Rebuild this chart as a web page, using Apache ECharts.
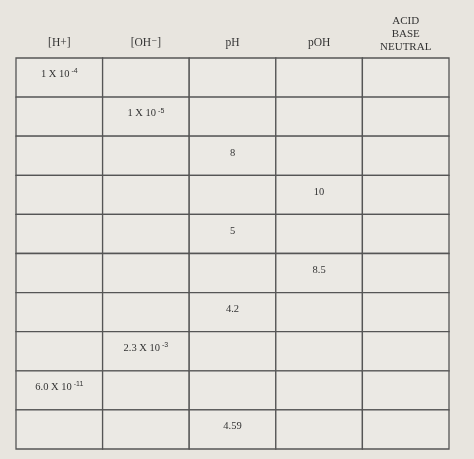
<!DOCTYPE html>
<html>
<head>
    <meta charset="utf-8">
    <script src="https://cdn.jsdelivr.net/npm/echarts@6/dist/echarts.min.js"></script>
    <style>
        html, body { margin: 0; background: #e8e5df; }
        #main { width: 474px; height: 459px; }
    </style>
</head>
<body>
    <div id="main"></div>
</body>
<script>
    var columns = ['[H+]', '[OH\u207B]', 'pH', 'pOH', 'ACID\nBASE\nNEUTRAL'];
    var rows = ['r1', 'r2', 'r3', 'r4', 'r5', 'r6', 'r7', 'r8', 'r9', 'r10'];
    // [column, row, text]  ("^" marks superscript)
    var entries = [
        [0, 0, '1 X 10^-4'],
        [1, 1, '1 X 10^-5'],
        [2, 2, '8'],
        [3, 3, '10'],
        [2, 4, '5'],
        [3, 5, '8.5'],
        [2, 6, '4.2'],
        [1, 7, '2.3 X 10^-3'],
        [0, 8, '6.0 X 10^-11'],
        [2, 9, '4.59']
    ];

    var cells = [];
    for (var c = 0; c < columns.length; c++) {
        for (var r = 0; r < rows.length; r++) {
            var txt = '';
            entries.forEach(function (e) { if (e[0] == c && e[1] == r) txt = e[2]; });
            cells.push([c, r, txt]);
        }
    }

    var font = '"Liberation Serif", "DejaVu Serif", serif';
    var myChart = echarts.init(document.getElementById('main'));
    myChart.setOption({
        backgroundColor: '#e8e5df',
        animation: false,
        grid: { left: 16, right: 25, top: 58, bottom: 10 },
        xAxis: {
            type: 'category',
            data: columns,
            position: 'top',
            axisLine: { show: false },
            axisTick: { show: false },
            axisLabel: {
                margin: 4,
                color: '#333',
                fontFamily: font,
                fontSize: 11,
                lineHeight: 13,
                formatter: function (v, i) {
                    return i == 4 ? v : '{p|' + v + '}';
                },
                rich: { p: { fontFamily: font, fontSize: 11.5, color: '#333', padding: [0, 0, 9, 0] } }
            }
        },
        yAxis: {
            type: 'category',
            data: rows,
            inverse: true,
            show: false
        },
        series: [{
            type: 'custom',
            data: cells,
            renderItem: function (params, api) {
                var p = api.coord([api.value(0), api.value(1)]);
                var s = api.size([1, 1]);
                var txt = cells[params.dataIndex][2];
                var parts = txt.split('^');
                var rich = parts.length > 1 ? parts[0] + '{s|' + parts[1] + '}' : txt;
                return {
                    type: 'group',
                    children: [{
                        type: 'rect',
                        shape: { x: p[0] - s[0] / 2, y: p[1] - s[1] / 2, width: s[0], height: s[1] },
                        style: { fill: '#ebe9e4', stroke: '#555', lineWidth: 1.3 }
                    }, {
                        type: 'text',
                        x: p[0], y: p[1] - 3,
                        style: {
                            text: rich,
                            align: 'center',
                            verticalAlign: 'middle',
                            fill: '#333',
                            font: '10.5px ' + font,
                            rich: { s: { fontSize: 7, fill: '#333', verticalAlign: 'top', padding: [0, 0, 6, 2] } }
                        }
                    }]
                };
            }
        }]
    });
</script>
</html>
